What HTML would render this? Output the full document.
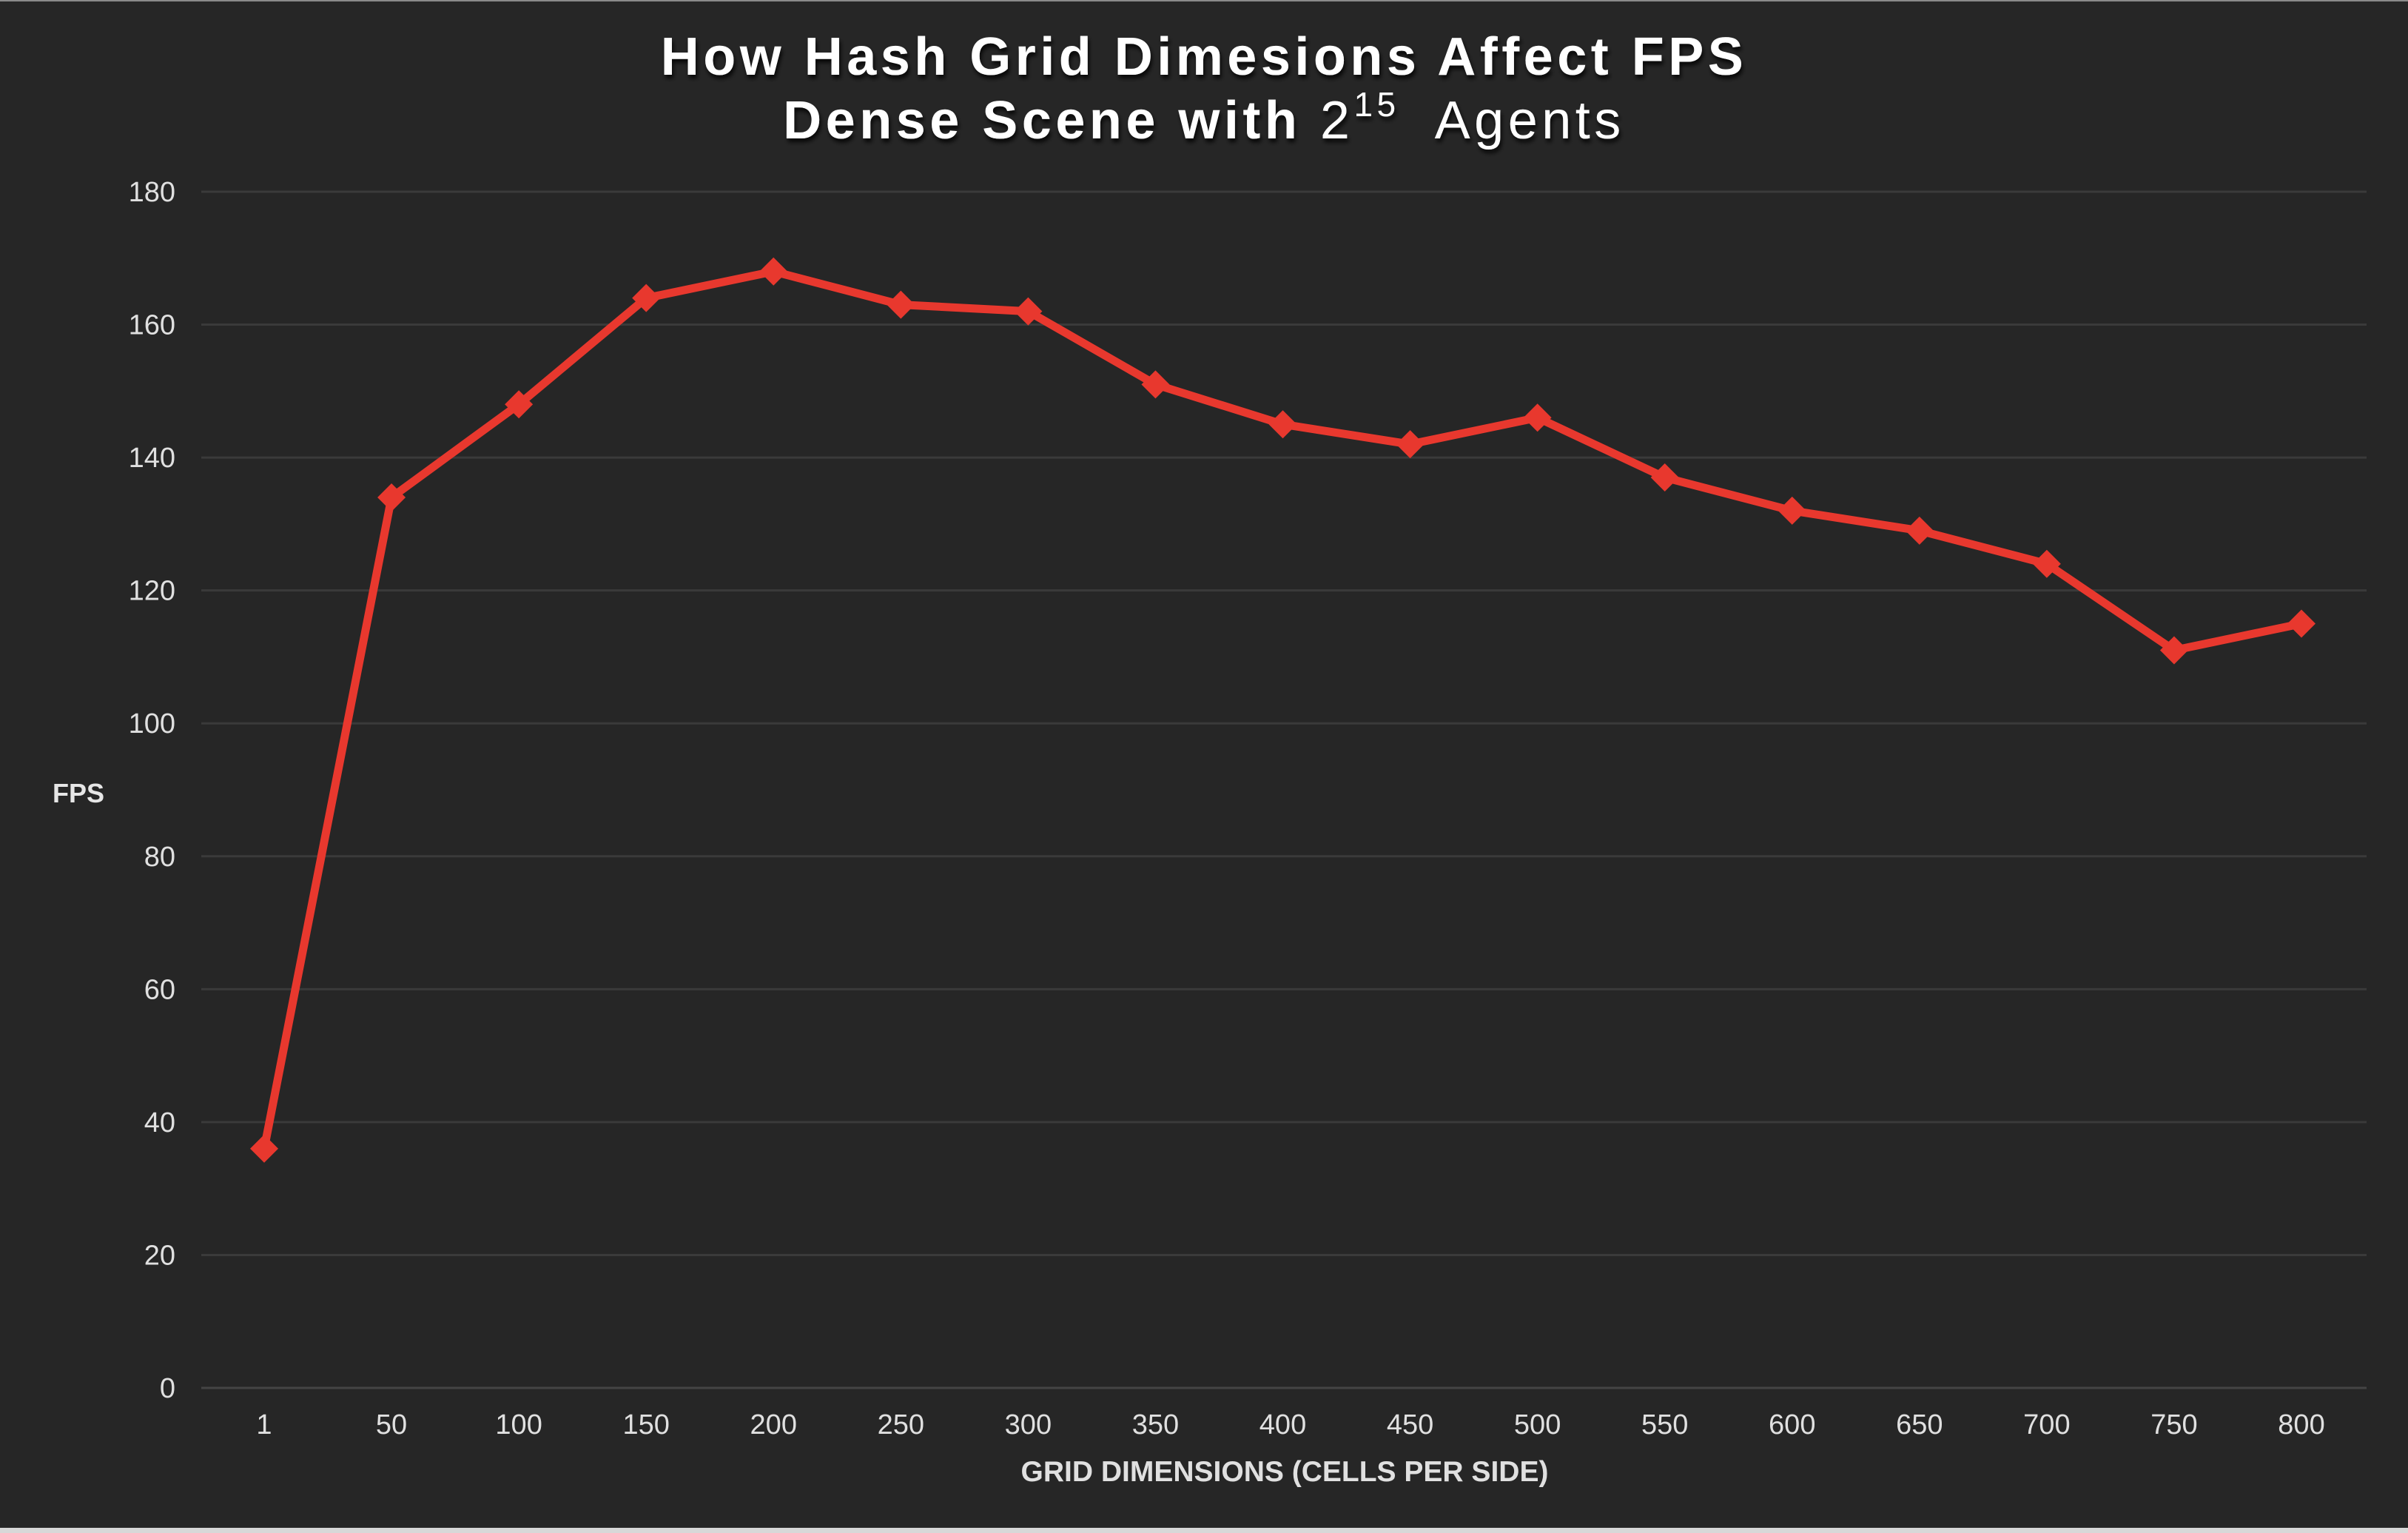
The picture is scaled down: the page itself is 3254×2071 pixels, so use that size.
<!DOCTYPE html>
<html><head><meta charset="utf-8">
<style>
html,body{margin:0;padding:0;background:#262626;}
svg{display:block;}
text{font-family:"Liberation Sans",Arial,sans-serif;}
</style></head>
<body>
<svg id="chart" width="3254" height="2071" viewBox="0 0 3254 2071" xmlns="http://www.w3.org/2000/svg">
  <defs>
    <filter id="sh" x="-5%" y="-20%" width="110%" height="140%">
      <feDropShadow dx="2" dy="5" stdDeviation="3" flood-color="#000" flood-opacity="0.8"/>
    </filter>
  </defs>
  <rect x="0" y="0" width="3254" height="2071" fill="#262626"/>
  <rect x="0" y="0" width="3254" height="2" fill="#8a8a8a"/>
  <rect x="0" y="2064" width="3254" height="7" fill="#d8d8d8"/>
  <g filter="url(#sh)" fill="#ffffff">
    <text x="1627" y="101" text-anchor="middle" font-size="72" font-weight="bold" letter-spacing="5.5">How Hash Grid Dimesions Affect FPS</text>
    <text x="1627" y="187" text-anchor="middle" font-size="72" letter-spacing="5.5" xml:space="preserve"><tspan font-weight="bold">Dense Scene with </tspan><tspan>2</tspan><tspan font-size="46" dy="-30">15</tspan><tspan dy="30">  Agents</tspan></text>
  </g>
  <g id="grid"></g>
  <g id="yticks"></g>
  <g id="xticks"></g>
  <text x="106" y="1084" text-anchor="middle" font-size="36" font-weight="bold" fill="#e6e6e6">FPS</text>
  <text x="1736" y="2001" text-anchor="middle" font-size="39" font-weight="bold" fill="#e0e0e0">GRID DIMENSIONS (CELLS PER SIDE)</text>
  <g id="series"></g>
</svg>
<script>
const categories = ["1","50","100","150","200","250","300","350","400","450","500","550","600","650","700","750","800"];
const fpsValues = [36,134,148,164,168,163,162,151,145,142,146,137,132,129,124,111,115];
const yTicks = [0,20,40,60,80,100,120,140,160,180];

const NS = "http://www.w3.org/2000/svg";
const plotLeft = 272, plotRight = 3198, y0 = 1875, yTop = 259, yMax = 180;
const xFirst = 357, xLast = 3110;
function xPos(i){ return xFirst + i*(xLast-xFirst)/(categories.length-1); }
function yPos(v){ return y0 - v*(y0-yTop)/yMax; }

const grid = document.getElementById('grid');
const yt = document.getElementById('yticks');
yTicks.forEach(v=>{
  const l = document.createElementNS(NS,'line');
  l.setAttribute('x1',plotLeft); l.setAttribute('x2',plotRight);
  l.setAttribute('y1',yPos(v)); l.setAttribute('y2',yPos(v));
  l.setAttribute('stroke', v===0 ? '#444' : '#3a3a3a'); l.setAttribute('stroke-width',3);
  
  
  grid.appendChild(l);
  const t = document.createElementNS(NS,'text');
  t.setAttribute('x',237); t.setAttribute('y',yPos(v)+13);
  t.setAttribute('text-anchor','end'); t.setAttribute('font-size','38'); t.setAttribute('fill','#e0e0e0');
  t.textContent = v;
  
  
  yt.appendChild(t);
});
const xt = document.getElementById('xticks');
categories.forEach((c,i)=>{
  const t = document.createElementNS(NS,'text');
  t.setAttribute('x',xPos(i)); t.setAttribute('y',1937);
  t.setAttribute('text-anchor','middle'); t.setAttribute('font-size','38'); t.setAttribute('fill','#e0e0e0');
  t.textContent = c;
  
  
  xt.appendChild(t);
});
const s = document.getElementById('series');
const pl = document.createElementNS(NS,'polyline');
pl.setAttribute('points', fpsValues.map((v,i)=>xPos(i)+','+yPos(v)).join(' '));
pl.setAttribute('fill','none'); pl.setAttribute('stroke','#e8382e'); pl.setAttribute('stroke-width',11);
pl.setAttribute('stroke-linejoin','round');


s.appendChild(pl);
fpsValues.forEach((v,i)=>{
  const x = xPos(i), y = yPos(v), r = 19;
  const p = document.createElementNS(NS,'polygon');
  p.setAttribute('points', `${x},${y-r} ${x+r},${y} ${x},${y+r} ${x-r},${y}`);
  p.setAttribute('fill','#e8382e');
  
  
  s.appendChild(p);
});
</script>
</body></html>
